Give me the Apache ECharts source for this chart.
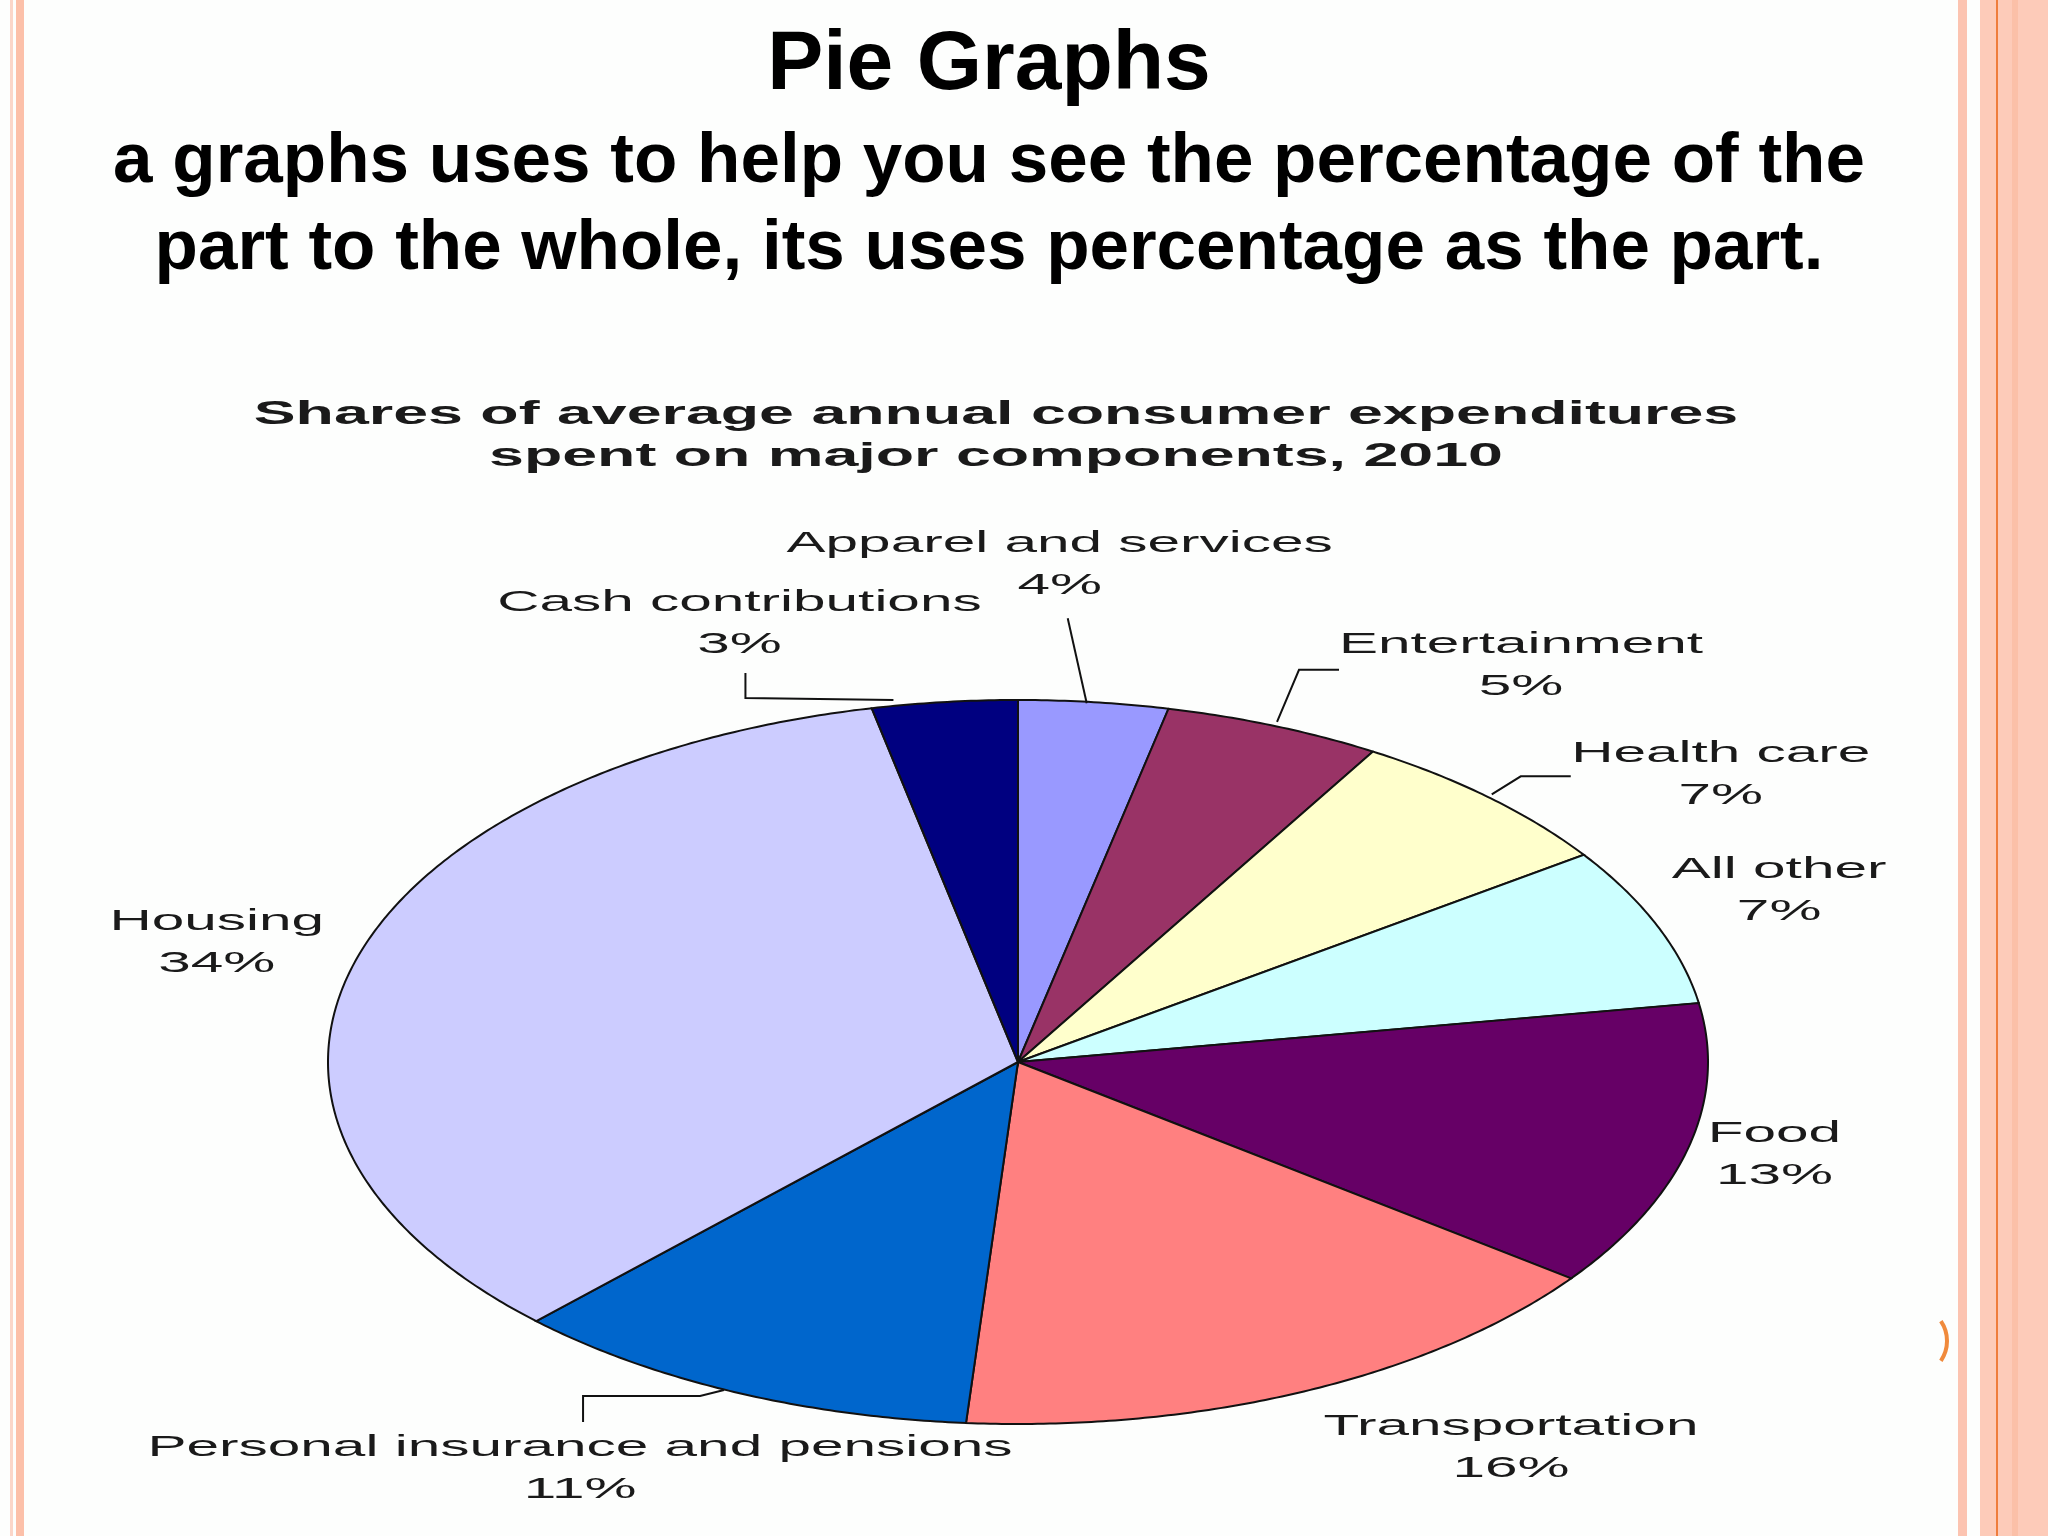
<!DOCTYPE html>
<html>
<head>
<meta charset="utf-8">
<script src="https://cdn.jsdelivr.net/npm/echarts@6/dist/echarts.min.js"></script>
<style>
  html, body { margin: 0; padding: 0; background: #fdfefd; }
  #chart { width: 2048px; height: 1536px; }
</style>
</head>
<body>
<div id="chart"></div>
<script>
// slices, clockwise from 12 o'clock
const names = [
  'Apparel and services',
  'Entertainment',
  'Health care',
  'All other',
  'Food',
  'Transportation',
  'Personal insurance and pensions',
  'Housing',
  'Cash contributions'
]
// slice sizes (percent)
const values = [3.5, 5.1, 6.7, 7.1, 12.8, 16.0, 11.1, 34.3, 3.4]
// the rounded shares printed on the labels
const shareLabels = ['4%', '5%', '7%', '7%', '13%', '16%', '11%', '34%', '3%']
const colors = ['#9999ff', '#993366', '#ffffcc', '#ccffff', '#660066', '#ff8080', '#0066cc', '#ccccff', '#000080']

// label placement relative to the middle of each slice's rim (px)
const labelOffset = [
  [-34, -137], [247, -60], [232, -23], [122, -35], [86, 7],
  [207, 56], [-154, 77], [-138, -19], [-205, -78]
]
// leader lines, also relative to the rim middle (null = none)
const leaders = [
  [[-7, 1], [-26, -84]],
  [[3, -4], [25, -56], [65, -56]],
  [[3, -3], [32, -21], [82, -21]],
  null,
  null,
  null,
  [[-10, -2], [-34, 4], [-151, 4], [-151, 30]],
  null,
  [[-51, -2], [-199, -4], [-199, -29]]
]

const total = values.reduce((a, b) => a + b, 0)
const starts = []
values.reduce((acc, v) => { starts.push(acc); return acc + v }, 0)

function renderSlice(params, api) {
  const i = params.dataIndex
  const a0 = starts[i] / total * Math.PI * 2
  const a1 = (starts[i] + values[i]) / total * Math.PI * 2
  const steps = Math.max(2, Math.ceil((a1 - a0) / (Math.PI / 360)))
  const points = [api.coord([0, 0])]
  for (let k = 0; k <= steps; k++) {
    const t = a0 + (a1 - a0) * k / steps
    points.push(api.coord([Math.sin(t), Math.cos(t)]))
  }
  const am = (a0 + a1) / 2
  const mid = api.coord([Math.sin(am), Math.cos(am)])
  const children = [{
    type: 'polygon',
    shape: { points },
    style: { fill: colors[i], stroke: '#111', lineWidth: 2 }
  }]
  if (leaders[i]) {
    children.push({
      type: 'polyline',
      shape: { points: leaders[i].map(p => [mid[0] + p[0], mid[1] + p[1]]) },
      style: { stroke: '#111', lineWidth: 2, fill: null },
      z2: 10
    })
  }
  children.push({
    type: 'text',
    x: mid[0] + labelOffset[i][0],
    y: mid[1] + labelOffset[i][1],
    scaleX: 1.95,
    z2: 10,
    style: {
      text: names[i] + '\n' + shareLabels[i],
      fontFamily: 'Liberation Sans',
      fontSize: 30,
      lineHeight: 42,
      fill: '#1a1a1a',
      align: 'center',
      verticalAlign: 'middle'
    }
  })
  return { type: 'group', children }
}

const chart = echarts.init(document.getElementById('chart'))
chart.setOption({
  backgroundColor: '#fdfefd',
  animation: false,
  grid: { left: 328, top: 700, width: 1380, height: 724 },
  xAxis: { type: 'value', min: -1, max: 1, show: false },
  yAxis: { type: 'value', min: -1, max: 1, show: false },
  graphic: [
    // slide border decoration
    { type: 'rect', shape: { x: 10, y: 0, width: 3, height: 1536 }, style: { fill: '#fbd6c9' } },
    { type: 'rect', shape: { x: 16, y: 0, width: 8, height: 1536 }, style: { fill: '#fcc0a9' } },
    { type: 'rect', shape: { x: 1958, y: 0, width: 9, height: 1536 }, style: { fill: '#fcc4b1' } },
    { type: 'rect', shape: { x: 1980, y: 0, width: 68, height: 1536 }, style: { fill: '#fdcbb9' } },
    { type: 'rect', shape: { x: 2012, y: 0, width: 6, height: 1536 }, style: { fill: '#fbc0a8' } },
    { type: 'rect', shape: { x: 1996, y: 0, width: 2, height: 1536 }, style: { fill: '#ef7d3c' } },
    {
      type: 'arc',
      shape: { cx: 1912, cy: 1341, r: 35, startAngle: -0.6, endAngle: 0.6 },
      style: { stroke: '#f08a3c', lineWidth: 4, fill: null }
    },
    // slide titles
    {
      type: 'text', x: 989, y: 66,
      style: {
        text: 'Pie Graphs', fontFamily: 'Liberation Sans', fontWeight: 'bold', fontSize: 84,
        fill: '#000', align: 'center', verticalAlign: 'middle'
      }
    },
    {
      type: 'text', x: 989, y: 206,
      style: {
        text: 'a graphs uses to help you see the percentage of the\npart to the whole, its uses percentage as the part.',
        fontFamily: 'Liberation Sans', fontWeight: 'bold', fontSize: 71, lineHeight: 87,
        fill: '#000', align: 'center', verticalAlign: 'middle'
      }
    },
    // chart title
    {
      type: 'text', x: 996, y: 436, scaleX: 1.9,
      style: {
        text: 'Shares of average annual consumer expenditures\nspent on major components, 2010',
        fontFamily: 'Liberation Sans', fontWeight: 'bold', fontSize: 33, lineHeight: 42,
        fill: '#1a1a1a', align: 'center', verticalAlign: 'middle'
      }
    }
  ],
  series: [{
    type: 'custom',
    clip: false,
    renderItem: renderSlice,
    data: values.map((v, i) => [v, i])
  }]
})
</script>
</body>
</html>
